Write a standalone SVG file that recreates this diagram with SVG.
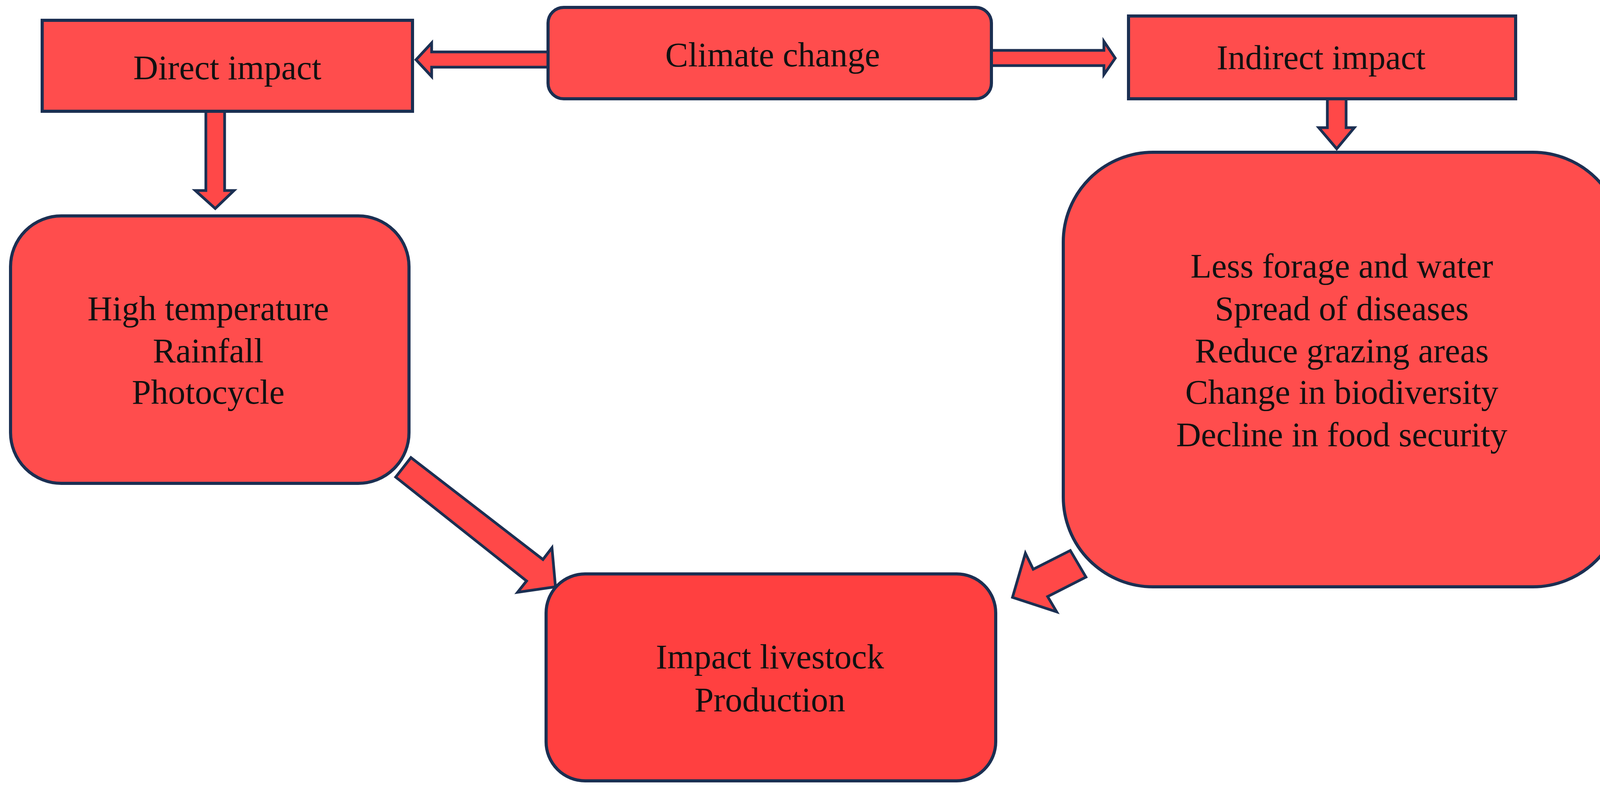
<svg xmlns="http://www.w3.org/2000/svg" width="4175" height="2026" viewBox="0 0 4175 2026">
<style>
.n{fill:#FF4D4D;stroke:#1B2F52;stroke-width:8}
.a{fill:#FF4848;stroke:#1B2F52;stroke-width:7;stroke-linejoin:miter}
text{font-family:"Liberation Serif",serif;font-size:88px;fill:#111;text-anchor:middle}
</style>
<rect width="4175" height="2026" fill="#fff"/>
<g id="connectors">
<polygon class="a" points="1403,133 1105,133 1105,110 1065,153 1105,196 1105,172 1403,172"/>
<polygon class="a" points="2538,129 2826,129 2826,106 2855,149 2826,191 2826,168 2538,168"/>
<polygon class="a" points="527,285 527,488 500,488 551,534 599,488 575,488 575,285"/>
<polygon class="a" points="3398,253 3398,327 3376,327 3422,381 3467,327 3446,327 3446,253"/>
<polygon class="a" points="1052,1172 1390,1433 1413,1403 1422,1503 1325,1517 1348,1488 1013,1222"/>
<polygon class="a" points="2740,1410 2645,1458 2625,1417 2592,1530 2705,1567 2682,1528 2780,1478"/>
</g>
<g id="climate"><rect class="n" x="1403" y="19" width="1135" height="234" rx="40"/><text x="1978" y="170">Climate change</text></g>
<g id="direct"><rect class="n" x="108" y="52" width="948" height="233"/><text x="582" y="203">Direct impact</text></g>
<g id="indirect"><rect class="n" x="2889" y="41" width="991" height="212"/><text x="3382" y="177">Indirect impact</text></g>
<g id="directFactors"><rect class="n" x="27" y="553" width="1020" height="685" rx="130"/>
<text x="533" y="820">High temperature</text><text x="533" y="928">Rainfall</text><text x="533" y="1034">Photocycle</text></g>
<g id="indirectFactors"><rect class="n" x="2722" y="390" width="1432" height="1113" rx="230"/>
<text x="3435" y="711">Less forage and water</text><text x="3435" y="820">Spread of diseases</text><text x="3435" y="928">Reduce grazing areas</text><text x="3435" y="1034">Change in biodiversity</text><text x="3435" y="1143">Decline in food security</text></g>
<g id="livestock"><rect class="n" x="1398" y="1470" width="1151" height="530" rx="100" style="fill:#FF4040"/>
<text x="1971" y="1712">Impact livestock</text><text x="1971" y="1822">Production</text></g>
</svg>
